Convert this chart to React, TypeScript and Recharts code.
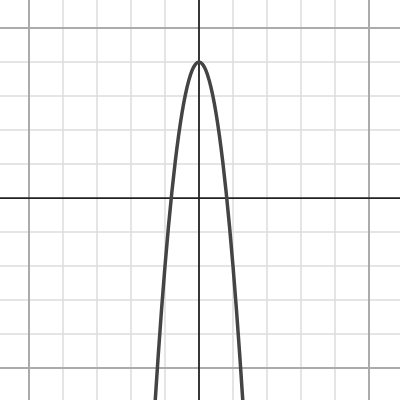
import React from 'react';
import { LineChart, Line, XAxis, YAxis, ReferenceLine } from 'recharts';

// Points (x, y in graph units)
const curveX = [
  -1.3, -1.2, -1.1, -1.0, -0.9, -0.8, -0.7, -0.6, -0.5, -0.4, -0.3, -0.2, -0.1, 0,
  0.1, 0.2, 0.3, 0.4, 0.5, 0.6, 0.7, 0.8, 0.9, 1.0, 1.1, 1.2, 1.3,
];
const curveY = [
  -6.14, -4.64, -3.26, -2.0, -0.86, 0.16, 1.06, 1.84, 2.5, 3.04, 3.46, 3.76, 3.94, 4,
  3.94, 3.76, 3.46, 3.04, 2.5, 1.84, 1.06, 0.16, -0.86, -2.0, -3.26, -4.64, -6.14,
];

// Grid lines in graph units
const minorLines = [-4, -3, -2, -1, 1, 2, 3, 4];
const majorLines = [-5, 5];

// Visible window
const xDomain = [-5.853, 5.912];
const yDomain = [-5.94, 5.824];

const data = curveX.map((x, i) => ({ x, y: curveY[i] }));

export default function App() {
  return (
    <div style={{ position: 'fixed', top: 0, left: 0, width: 400, height: 400, background: '#fff' }}>
      <LineChart width={400} height={400} data={data} margin={{ top: 0, right: 0, bottom: 0, left: 0 }}>
        <XAxis type="number" dataKey="x" domain={xDomain} allowDataOverflow hide />
        <YAxis type="number" domain={yDomain} allowDataOverflow hide />
        {minorLines.map((v) => (
          <ReferenceLine key={`vx${v}`} x={v} stroke="#dcdcdc" strokeWidth={1.5} ifOverflow="visible" />
        ))}
        {minorLines.map((v) => (
          <ReferenceLine key={`hy${v}`} y={v} stroke="#dcdcdc" strokeWidth={1.5} ifOverflow="visible" />
        ))}
        {majorLines.map((v) => (
          <ReferenceLine key={`mx${v}`} x={v} stroke="#ababab" strokeWidth={2} ifOverflow="visible" />
        ))}
        {majorLines.map((v) => (
          <ReferenceLine key={`my${v}`} y={v} stroke="#ababab" strokeWidth={2} ifOverflow="visible" />
        ))}
        <ReferenceLine x={0} stroke="#222" strokeWidth={1.8} />
        <ReferenceLine y={0} stroke="#222" strokeWidth={1.8} />
        <Line
          type="natural"
          dataKey="y"
          stroke="#444"
          strokeWidth={3.5}
          dot={false}
          isAnimationActive={false}
        />
      </LineChart>
    </div>
  );
}
